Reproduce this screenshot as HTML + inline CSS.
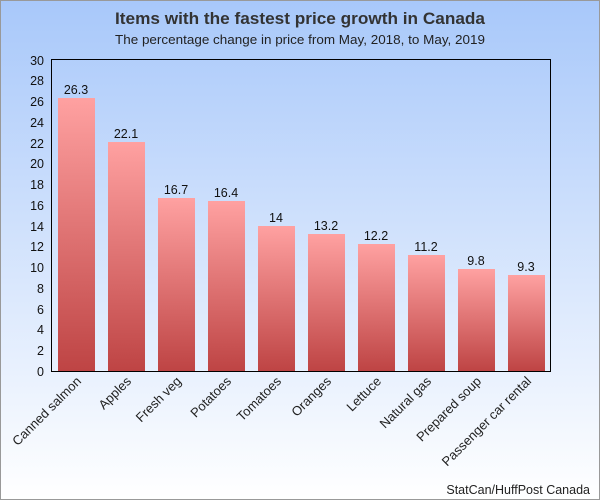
<!DOCTYPE html>
<html><head><meta charset="utf-8"><style>
html,body{margin:0;padding:0;}
svg{display:block;font-family:"Liberation Sans","DejaVu Sans",sans-serif;}
</style></head><body>
<svg width="600" height="500" viewBox="0 0 600 500" xmlns="http://www.w3.org/2000/svg">
<defs>
<linearGradient id="bg" x1="0" y1="0" x2="0" y2="1">
<stop offset="0" stop-color="#a8c8fa"/>
<stop offset="1" stop-color="#ffffff"/>
</linearGradient>
<linearGradient id="bar" x1="0" y1="0" x2="0" y2="1">
<stop offset="0" stop-color="#ffa1a1"/>
<stop offset="1" stop-color="#be4444"/>
</linearGradient>
</defs>
<rect x="0.5" y="0.5" width="599" height="499" fill="url(#bg)" stroke="#999" stroke-width="1"/>
<text x="300" y="24" text-anchor="middle" font-size="17" font-weight="bold" fill="#333" textLength="370" lengthAdjust="spacingAndGlyphs">Items with the fastest price growth in Canada</text>
<text x="300" y="44" text-anchor="middle" font-size="13" fill="#222" textLength="370" lengthAdjust="spacingAndGlyphs">The percentage change in price from May, 2018, to May, 2019</text>
<g font-size="12.5" fill="#111" text-anchor="end">
<text x="44" y="376">0</text><text x="44" y="355">2</text><text x="44" y="334">4</text><text x="44" y="314">6</text><text x="44" y="293">8</text><text x="44" y="272">10</text><text x="44" y="251">12</text><text x="44" y="231">14</text><text x="44" y="210">16</text><text x="44" y="189">18</text><text x="44" y="168">20</text><text x="44" y="148">22</text><text x="44" y="127">24</text><text x="44" y="106">26</text><text x="44" y="85">28</text><text x="44" y="65">30</text>
</g>
<g fill="url(#bar)">
<rect x="58" y="98" width="37" height="273"/>
<rect x="108" y="142" width="37" height="229"/>
<rect x="158" y="198" width="37" height="173"/>
<rect x="208" y="201" width="37" height="170"/>
<rect x="258" y="226" width="37" height="145"/>
<rect x="308" y="234" width="37" height="137"/>
<rect x="358" y="244" width="37" height="127"/>
<rect x="408" y="255" width="37" height="116"/>
<rect x="458" y="269" width="37" height="102"/>
<rect x="508" y="275" width="37" height="96"/>
</g>
<g font-size="12.5" fill="#111" text-anchor="middle">
<text x="76" y="94">26.3</text><text x="126" y="138">22.1</text><text x="176" y="194">16.7</text><text x="226" y="197">16.4</text><text x="276" y="222">14</text><text x="326" y="230">13.2</text><text x="376" y="240">12.2</text><text x="426" y="251">11.2</text><text x="476" y="265">9.8</text><text x="526" y="271">9.3</text>
</g>
<rect x="51.5" y="59.5" width="499" height="312" fill="none" stroke="#000" stroke-width="1"/>
<g font-size="13" fill="#222" text-anchor="end">
<text transform="translate(82,382) rotate(-45)">Canned salmon</text>
<text transform="translate(132,382) rotate(-45)">Apples</text>
<text transform="translate(182,382) rotate(-45)">Fresh veg</text>
<text transform="translate(232,382) rotate(-45)">Potatoes</text>
<text transform="translate(282,382) rotate(-45)">Tomatoes</text>
<text transform="translate(332,382) rotate(-45)">Oranges</text>
<text transform="translate(382,382) rotate(-45)">Lettuce</text>
<text transform="translate(432,382) rotate(-45)">Natural gas</text>
<text transform="translate(482,382) rotate(-45)">Prepared soup</text>
<text transform="translate(532,382) rotate(-45)">Passenger car rental</text>
</g>
<text x="590" y="494" text-anchor="end" font-size="12.5" fill="#222">StatCan/HuffPost Canada</text>
</svg>
</body></html>
